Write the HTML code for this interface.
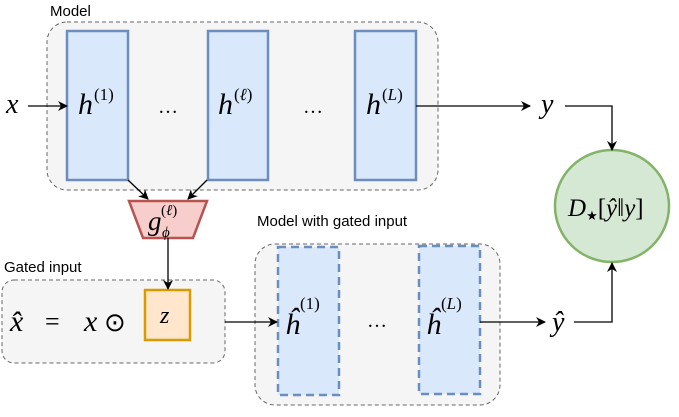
<!DOCTYPE html>
<html><head><meta charset="utf-8"><style>
body{margin:0;background:#fff;width:679px;height:412px;overflow:hidden}
svg text{font-family:"Liberation Serif",serif;font-style:italic}
.s{font-family:"Liberation Sans",sans-serif;font-style:normal}
</style></head><body>
<svg width="679" height="412" viewBox="0 0 679 412" xmlns="http://www.w3.org/2000/svg">
<defs><marker id="a" markerWidth="10" markerHeight="10" refX="9" refY="5" orient="auto" markerUnits="userSpaceOnUse"><path d="M0,0 L10,5 L0,10 L3,5z" fill="#000"/></marker></defs>
<text x="50" y="16" class="s" font-size="15">Model</text>
<rect x="47" y="22" width="391" height="168" rx="20" fill="#f5f5f5" stroke="#666" stroke-dasharray="4,3"/>
<rect x="67" y="31" width="61" height="149" fill="#dae8fc" stroke="#6c8ebf" stroke-width="2.5"/>
<rect x="208" y="31" width="60" height="149" fill="#dae8fc" stroke="#6c8ebf" stroke-width="2.5"/>
<rect x="355" y="31" width="61" height="149" fill="#dae8fc" stroke="#6c8ebf" stroke-width="2.5"/>
<text x="78" y="114" font-size="30">h</text><text x="94" y="100" font-size="17" style="font-style:normal">(1)</text>
<text x="218" y="114" font-size="30">h</text><text x="234" y="100" font-size="17"><tspan style="font-style:normal">(</tspan>ℓ<tspan style="font-style:normal">)</tspan></text>
<text x="366" y="114" font-size="30">h</text><text x="382" y="100" font-size="17"><tspan style="font-style:normal">(</tspan>L<tspan style="font-style:normal">)</tspan></text>
<text x="158" y="113" font-size="20" style="font-style:normal">…</text>
<text x="303" y="113" font-size="20" style="font-style:normal">…</text>
<text x="6" y="113" font-size="28">x</text>
<text x="541" y="113" font-size="28">y</text>
<ellipse cx="612" cy="206" rx="57" ry="56" fill="#d5e8d4" stroke="#82b366" stroke-width="2.5"/>
<text x="568" y="216" font-size="25">D<tspan font-size="13" dy="4" style="font-style:normal">★</tspan><tspan dy="-4" style="font-style:normal">[</tspan>ŷ<tspan style="font-style:normal">‖</tspan>y<tspan style="font-style:normal">]</tspan></text>
<polygon points="129,201 207,201 193,238 143,238" fill="#f8cecc" stroke="#b85450" stroke-width="2.5"/>
<text x="148" y="230" font-size="27">g</text><text x="162" y="237" font-size="15">ϕ</text><text x="161" y="215" font-size="15"><tspan style="font-style:normal">(</tspan>ℓ<tspan style="font-style:normal">)</tspan></text>
<text x="4" y="272" class="s" font-size="15">Gated input</text>
<rect x="2" y="280" width="223" height="83" rx="12" fill="#f5f5f5" stroke="#666" stroke-dasharray="4,3"/>
<rect x="145" y="290" width="45" height="50" fill="#ffe6cc" stroke="#d79b00" stroke-width="2.5"/>
<text x="160" y="323" font-size="24">z</text>
<text x="10" y="331" font-size="30">x̂</text>
<text x="45" y="330" font-size="26" style="font-style:normal">=</text>
<text x="84" y="331" font-size="30">x</text>
<text x="104" y="331" font-size="26" style="font-style:normal">⊙</text>
<text x="257" y="226" class="s" font-size="15">Model with gated input</text>
<rect x="255" y="244" width="245" height="161" rx="20" fill="#f5f5f5" stroke="#666" stroke-dasharray="4,3"/>
<rect x="278" y="247" width="61" height="148" fill="#dae8fc" stroke="#6c8ebf" stroke-width="2.5" stroke-dasharray="8,5"/>
<rect x="419" y="246" width="61" height="148" fill="#dae8fc" stroke="#6c8ebf" stroke-width="2.5" stroke-dasharray="8,5"/>
<text x="285" y="334" font-size="30">ĥ</text><text x="300" y="309" font-size="17" style="font-style:normal">(1)</text>
<text x="426" y="334" font-size="30">ĥ</text><text x="441" y="309" font-size="17"><tspan style="font-style:normal">(</tspan>L<tspan style="font-style:normal">)</tspan></text>
<text x="367" y="327" font-size="20" style="font-style:normal">…</text>
<text x="552" y="331" font-size="28">ŷ</text>
<g stroke="#000" stroke-width="1.3" fill="none">
<line x1="28" y1="106" x2="67" y2="106" marker-end="url(#a)"/>
<line x1="416" y1="106" x2="530" y2="106" marker-end="url(#a)"/>
<polyline points="565,106 612,106 612,150" marker-end="url(#a)"/>
<line x1="128" y1="180" x2="148" y2="199" marker-end="url(#a)"/>
<line x1="207" y1="180" x2="188" y2="199" marker-end="url(#a)"/>
<line x1="168" y1="238" x2="168" y2="289" marker-end="url(#a)"/>
<line x1="225" y1="322" x2="277" y2="322" marker-end="url(#a)"/>
<line x1="480" y1="322" x2="545" y2="322" marker-end="url(#a)"/>
<polyline points="574,322 612,322 612,263" marker-end="url(#a)"/>
</g>
</svg>
</body></html>
